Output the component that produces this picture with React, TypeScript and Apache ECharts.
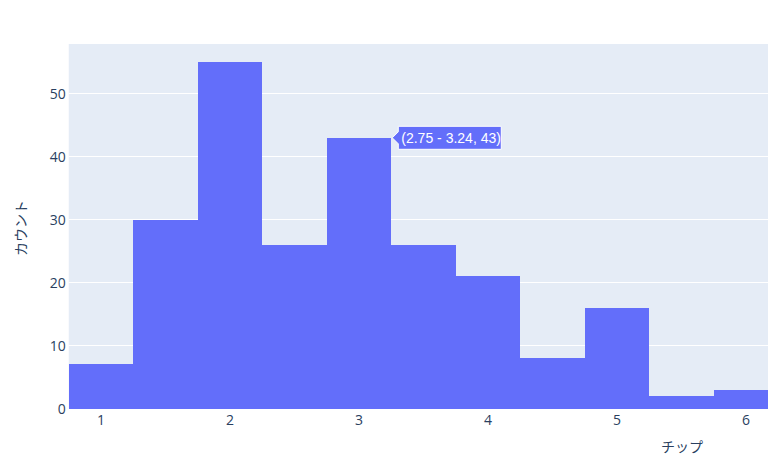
import React, { useEffect, useRef } from "react";
import * as echarts from "echarts";

// Histogram bins (tip amounts) and counts
const binStarts = [0.75, 1.25, 1.75, 2.25, 2.75, 3.25, 3.75, 4.25, 4.75, 5.25, 5.75];
const binEnds = [1.25, 1.75, 2.25, 2.75, 3.25, 3.75, 4.25, 4.75, 5.25, 5.75, 6.25];
const counts = [7, 30, 55, 26, 43, 26, 21, 8, 16, 2, 3];
const xTicks = [1, 2, 3, 4, 5, 6];
const yTicks = [0, 10, 20, 30, 40, 50];
const hoverIndex = 4;
const xTitle = "チップ";
const yTitle = "カウント";

const BAR = "#636efa";
const TXT = "#2a3f5f";
const FONT = "'Open Sans', 'Noto Sans CJK JP', sans-serif";

export default function App() {
  const ref = useRef<HTMLDivElement>(null);
  useEffect(() => {
    if (!ref.current) return;
    const chart = echarts.init(ref.current, null, { renderer: "svg" });
    const data = binStarts.map((s, i) => [s, binEnds[i], counts[i]]);
    chart.setOption({
      animation: false,
      backgroundColor: "#ffffff",
      grid: {
        left: 68.75,
        right: 0,
        top: 44,
        bottom: 66.5,
        show: true,
        backgroundColor: "#E5ECF6",
        borderWidth: 0,
      },
      xAxis: {
        type: "value",
        min: 0.75,
        max: 6.17,
        axisLine: { show: false },
        axisTick: { show: false },
        splitLine: { show: false },
        axisLabel: {
          customValues: xTicks,
          color: TXT,
          fontFamily: FONT,
          fontSize: 14,
          margin: 4,
        },
      },
      yAxis: {
        type: "value",
        min: 0,
        max: 57.9,
        interval: 10,
        axisLine: { show: false },
        axisTick: { show: false },
        splitLine: {
          show: true,
          showMaxLine: false,
          lineStyle: { color: "#ffffff", width: 1 },
        },
        axisLabel: {
          color: TXT,
          fontFamily: FONT,
          fontSize: 14,
          margin: 3,
          showMaxLabel: false,
          formatter: (v: number) => (yTicks.includes(v) ? String(v) : ""),
        },
      },
      series: [
        {
          type: "custom",
          data,
          encode: { x: [0, 1], y: 2 },
          renderItem: (params: any, api: any) => {
            const x0 = api.value(0);
            const x1 = api.value(1);
            const y = api.value(2);
            const p0 = api.coord([x0, y]);
            const p1 = api.coord([x1, 0]);
            const left = Math.round(p0[0]);
            const right = Math.round(p1[0]);
            const topY = Math.round(p0[1]);
            const bottomY = Math.round(p1[1]);
            return {
              type: "rect",
              shape: { x: left, y: topY, width: right - left, height: bottomY - topY },
              style: { fill: BAR },
            };
          },
        },
      ],
    });

    const [px, py] = chart.convertToPixel({ gridIndex: 0 }, [
      binEnds[hoverIndex],
      counts[hoverIndex],
    ]) as number[];
    const label = `(${binStarts[hoverIndex].toFixed(2)} - ${(binEnds[hoverIndex] - 0.01).toFixed(2)}, ${counts[hoverIndex]})`;
    const L = px + 7;
    const W = 103;
    const H = 23;
    const top = py - H / 2;
    chart.setOption({
      graphic: [
        {
          type: "polygon",
          shape: {
            points: [
              [px + 1, py],
              [L, py - 6],
              [L, top],
              [L + W, top],
              [L + W, top + H],
              [L, top + H],
              [L, py + 6],
            ],
          },
          style: { fill: BAR, stroke: "#ffffff", lineWidth: 1 },
        },
        {
          type: "text",
          x: L + 3,
          y: py,
          style: {
            text: label,
            fill: "#ffffff",
            font: "14px 'Liberation Sans', Arial, sans-serif",
            verticalAlign: "middle",
            align: "left",
          },
        },
        {
          type: "text",
          x: 682,
          y: 446,
          style: {
            text: xTitle,
            fill: TXT,
            font: "14px 'Noto Sans CJK JP', sans-serif",
            align: "center",
            verticalAlign: "middle",
          },
        },
        {
          type: "text",
          x: 20,
          y: 228,
          rotation: Math.PI / 2,
          style: {
            text: yTitle,
            fill: TXT,
            font: "14px 'Noto Sans CJK JP', sans-serif",
            align: "center",
            verticalAlign: "middle",
          },
        },
      ],
    });
    return () => chart.dispose();
  }, []);
  return (
    <div
      ref={ref}
      style={{ position: "fixed", left: 0, top: 0, width: 768, height: 475 }}
    />
  );
}
